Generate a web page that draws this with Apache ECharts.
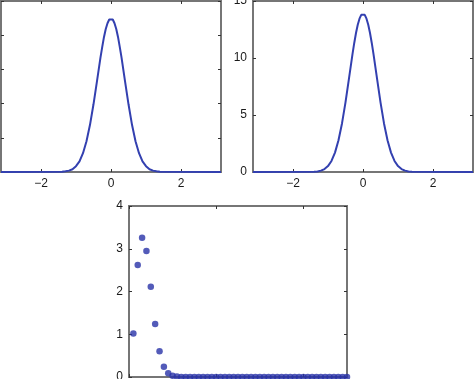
<!DOCTYPE html>
<html>
<head>
<meta charset="utf-8">
<script src="https://cdn.jsdelivr.net/npm/echarts@6/dist/echarts.min.js"></script>
<style>html,body{margin:0;padding:0;background:#fff}#c{width:474px;height:379px}</style>
</head>
<body>
<div id="c"></div>
<script>
// Curve sample positions (shared by both top panels)
const curveX = [-3.1416, -1.4, -1.3, -1.2, -1.1, -1.0, -0.9, -0.8, -0.7, -0.6, -0.5, -0.4, -0.3, -0.25, -0.2, -0.15, -0.1, -0.05, 0,
  0.05, 0.1, 0.15, 0.2, 0.25, 0.3, 0.4, 0.5, 0.6, 0.7, 0.8, 0.9, 1.0, 1.1, 1.2, 1.3, 1.4, 3.1416];
// Top-left panel values (y tick labels not visible in the reference)
const leftY = [0, 0.01, 0.02, 0.04, 0.08, 0.17, 0.31, 0.55, 0.90, 1.38, 1.98, 2.66, 3.35, 3.66, 3.95, 4.18, 4.35, 4.46, 4.5,
  4.46, 4.35, 4.18, 3.95, 3.66, 3.35, 2.66, 1.98, 1.38, 0.90, 0.55, 0.31, 0.17, 0.08, 0.04, 0.02, 0.01, 0];
// Top-right panel values
const rightY = [0, 0.02, 0.05, 0.12, 0.26, 0.52, 0.97, 1.70, 2.78, 4.26, 6.11, 8.21, 10.34, 11.32, 12.19, 12.91, 13.45, 13.79, 13.9,
  13.79, 13.45, 12.91, 12.19, 11.32, 10.34, 8.21, 6.11, 4.26, 2.78, 1.70, 0.97, 0.52, 0.26, 0.12, 0.05, 0.02, 0];
// Bottom panel: index 1..50
const stemX = [1,2,3,4,5,6,7,8,9,10,11,12,13,14,15,16,17,18,19,20,21,22,23,24,25,26,27,28,29,30,
  31,32,33,34,35,36,37,38,39,40,41,42,43,44,45,46,47,48,49,50];
const stemY = [1.02, 2.62, 3.26, 2.95, 2.11, 1.24, 0.60, 0.24, 0.09, 0.03, 0.01, 0, 0, 0, 0, 0, 0, 0, 0, 0,
  0, 0, 0, 0, 0, 0, 0, 0, 0, 0, 0, 0, 0, 0, 0, 0, 0, 0, 0, 0, 0, 0, 0, 0, 0, 0, 0, 0, 0, 0];
// Tick labels
const topXTicks = [-2, 0, 2];
const leftYTicks = [0, 1, 2, 3, 4, 5];
const rightYTicks = [0, 5, 10, 15];
const bottomXTicks = [0, 20, 40];
const bottomYTicks = [0, 1, 2, 3, 4];

const chart = echarts.init(document.getElementById('c'), null, {renderer: 'canvas'});
const FRAME = '#767676';
const TICK = '#333333';
const fmt = v => String(v).replace('-', '\u2212');
const lbl = (show, margin) => ({show, color: '#1a1a1a', fontFamily: 'Liberation Sans, Arial, sans-serif', fontSize: 12, margin, formatter: fmt});

function ax(grid, min, max, ticks, pos, showLbl) {
  return {type: 'value', gridIndex: grid, min, max, position: pos,
    axisLine: {show: false, onZero: false}, splitLine: {show: false},
    axisTick: {show: true, inside: true, length: 3, customValues: ticks, lineStyle: {color: TICK, width: 1}},
    axisLabel: Object.assign(lbl(showLbl, 6), {customValues: ticks})};
}
const gridStyle = {show: true, borderColor: FRAME, borderWidth: 2, backgroundColor: '#fff',
  containLabel: false, outerBoundsMode: 'none'};

chart.setOption({
  animation: false,
  backgroundColor: '#ffffff',
  grid: [
    Object.assign({left: 1, top: 1, width: 220, height: 171}, gridStyle),
    Object.assign({left: 253, top: 1, width: 220, height: 171}, gridStyle),
    Object.assign({left: 129, top: 206, width: 218, height: 171}, gridStyle)
  ],
  xAxis: [
    ax(0, -Math.PI, Math.PI, topXTicks, 'bottom', true),
    ax(0, -Math.PI, Math.PI, topXTicks, 'top', false),
    ax(1, -Math.PI, Math.PI, topXTicks, 'bottom', true),
    ax(1, -Math.PI, Math.PI, topXTicks, 'top', false),
    ax(2, 0, 50, bottomXTicks, 'bottom', true),
    ax(2, 0, 50, bottomXTicks, 'top', false)
  ],
  yAxis: [
    ax(0, 0, 5, leftYTicks, 'left', false),
    ax(0, 0, 5, leftYTicks, 'right', false),
    ax(1, 0, 15, rightYTicks, 'left', true),
    ax(1, 0, 15, rightYTicks, 'right', false),
    ax(2, 0, 4, bottomYTicks, 'left', true),
    ax(2, 0, 4, bottomYTicks, 'right', false)
  ],
  series: [
    {type: 'line', xAxisIndex: 0, yAxisIndex: 0, data: curveX.map((x, i) => [x, leftY[i]]),
      showSymbol: false, smooth: false, clip: false,
      lineStyle: {color: '#3340b0', width: 2}, z: 5},
    {type: 'line', xAxisIndex: 2, yAxisIndex: 2, data: curveX.map((x, i) => [x, rightY[i]]),
      showSymbol: false, smooth: false, clip: false,
      lineStyle: {color: '#3340b0', width: 2}, z: 5},
    {type: 'scatter', xAxisIndex: 4, yAxisIndex: 4, data: stemX.map((x, i) => [x, stemY[i]]),
      symbol: 'circle', symbolSize: 6.5, clip: false,
      itemStyle: {color: '#2832a8'}, z: 5}
  ]
});
</script>
</body>
</html>
